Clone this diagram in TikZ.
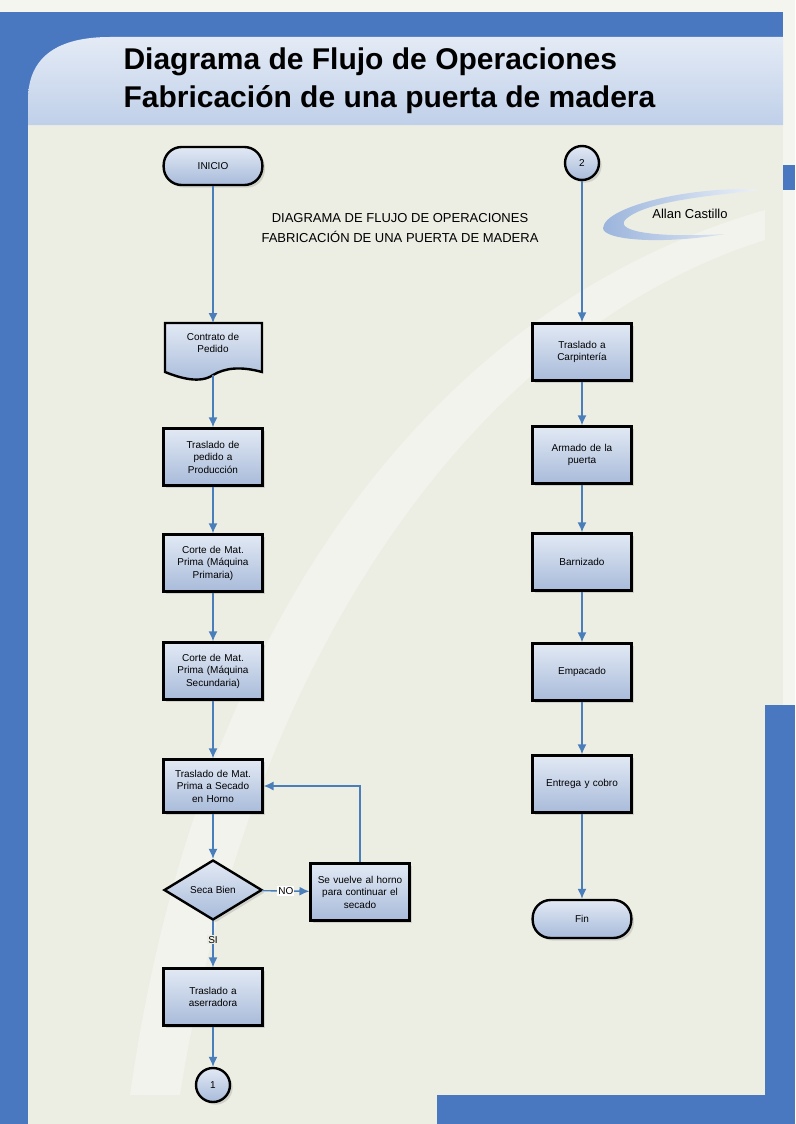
\documentclass[tikz,border=0pt]{standalone}
\usepackage{fontspec}
\setmainfont{Liberation Sans}
\usepackage{tikz}
\usetikzlibrary{arrows.meta,positioning,calc,shapes.geometric,shadows}
\definecolor{frameblue}{HTML}{4A78C0}
\definecolor{panel}{HTML}{ECEEE4}
\definecolor{flowblue}{HTML}{4A7EBB}
\definecolor{boxtop}{HTML}{E2E9F4}
\definecolor{boxbot}{HTML}{A8BBDA}
\begin{document}
\begin{tikzpicture}[x=1pt, y=-1pt,
    box/.style={rectangle, draw=black, line width=2.4pt, minimum width=96pt, minimum height=57pt,
      top color=boxtop, bottom color=boxbot, align=center, text width=92pt,
      font=\fontsize{10}{12.5}\selectfont, drop shadow={opacity=0.25}},
    term/.style={box, rounded corners=18pt, minimum height=38pt},
    conn/.style={circle, draw=black, line width=2.4pt, minimum size=34pt, inner sep=0pt,
      top color=boxtop, bottom color=boxbot, font=\fontsize{10}{12}\selectfont, drop shadow={opacity=0.25}},
    dec/.style={diamond, draw=black, line width=2.4pt, aspect=1.6, minimum width=98pt, minimum height=60pt,
      inner sep=0pt, top color=boxtop, bottom color=boxbot, font=\fontsize{10}{12}\selectfont, drop shadow={opacity=0.25}},
    flow/.style={flowblue, line width=1.4pt, -{Latex[length=10pt, width=9pt]}},
    lbl/.style={text=black, inner sep=1pt, font=\fontsize{10}{12}\selectfont},
    ]
    % page frame
    \useasboundingbox (0,0) rectangle (795,1124);
    \fill[panel!60] (0,0) rectangle (795,1124);
    \fill[frameblue] (0,12) rectangle (783,1124);
    \fill[frameblue] (783,165) rectangle (795,190);
    \fill[panel] (28,125) rectangle (783,1095);
    \fill[frameblue] (765,705) rectangle (795,1124);
    \fill[panel] (28,1095) rectangle (437,1124);
    \shade[top color=white!85!frameblue, bottom color=frameblue!35] (28,125) -- (28,100)
      .. controls (28,55) and (60,37) .. (110,37) -- (783,37) -- (783,125) -- cycle;
    \fill[white, opacity=0.3] (130,1095) .. controls (200,600) and (450,300) .. (765,210)
      -- (765,240) .. controls (480,330) and (250,650) .. (180,1095) -- cycle;

    % title
    \node[anchor=west, font=\bfseries\fontsize{30}{34}\selectfont] (title1) at (120,62) {Diagrama de Flujo de Operaciones};
    \node[anchor=west, font=\bfseries\fontsize{30}{34}\selectfont] (title2) at (120,100) {Fabricación de una puerta de madera};

    % left column
    \node[term] (inicio) at (213,166) {INICIO};
    \coordinate (cnw) at (165,323);
    \coordinate (cne) at (262,323);
    \coordinate (cse) at (262,372);
    \coordinate (csw) at (165,372);
    \coordinate (cbot) at (213,375);
    \shade[top color=boxtop, bottom color=boxbot, draw=black, line width=2.4pt]
      (csw) -- (cnw) -- (cne) -- (cse)
      .. controls (240,366) and (225,368) .. (cbot)
      .. controls (200,384) and (180,378) .. (csw) -- cycle;
    \node[align=center, font=\fontsize{10}{12.5}\selectfont] (contrato) at (213,343) {Contrato de\\Pedido};
    \node[box] (pedido) at (213,457) {Traslado de\\pedido a\\Producción};
    \node[box] (corte1) at (213,563) {Corte de Mat.\\Prima (Máquina\\Primaria)};
    \node[box] (corte2) at (213,671) {Corte de Mat.\\Prima (Máquina\\Secundaria)};
    \node[box, minimum height=53pt] (secado) at (213,786) {Traslado de Mat.\\Prima a Secado\\en Horno};
    \node[dec] (seca) at (213,890) {Seca Bien};
    \node[box, text width=92pt] (horno) at (360,892) {Se vuelve al horno\\para continuar el\\secado};
    \node[box] (aserr) at (213,997) {Traslado a\\aserradora};
    \node[conn] (c1) at (213,1085) {1};

    % right column
    \node[conn] (c2) at (582,163) {2};
    \node[box] (carp) at (582,352) {Traslado a\\Carpintería};
    \node[box] (armado) at (582,455) {Armado de la\\puerta};
    \node[box] (barniz) at (582,562) {Barnizado};
    \node[box] (empaq) at (582,672) {Empacado};
    \node[box] (entrega) at (582,784) {Entrega y cobro};
    \node[term] (fin) at (582,919) {Fin};

    % notes
    \node[align=center, font=\fontsize{13}{20}\selectfont] (subt) at (400,228) {DIAGRAMA DE FLUJO DE OPERACIONES\\FABRICACIÓN DE UNA PUERTA DE MADERA};
    \shade[left color=frameblue!55, right color=frameblue!10] (760,190) .. controls (700,185) and (605,205) .. (603,228)
      .. controls (603,240) and (660,245) .. (725,234)
      .. controls (660,238) and (615,232) .. (625,220)
      .. controls (645,200) and (720,195) .. (760,190) -- cycle;
    \node[font=\fontsize{13}{15}\selectfont] (autor) at (690,214) {Allan Castillo};

    % connections
    \draw[flow] (inicio) -- (213,323);
    \draw[flow] (cbot) -- (pedido);
    \draw[flow] (pedido) -- (corte1);
    \draw[flow] (corte1) -- (corte2);
    \draw[flow] (corte2) -- (secado);
    \draw[flow] (secado) -- (seca);
    \draw[flow] (seca) -- node[lbl, fill=white] {NO} (horno);
    \draw[flow] (horno.north) |- (secado.east);
    \draw[flow] (seca) -- node[lbl, pos=0.4, fill=panel] {SI} (aserr);
    \draw[flow] (aserr) -- (c1);
    \draw[flow] (c2) -- (carp);
    \draw[flow] (carp) -- (armado);
    \draw[flow] (armado) -- (barniz);
    \draw[flow] (barniz) -- (empaq);
    \draw[flow] (empaq) -- (entrega);
    \draw[flow] (entrega) -- (fin);
\end{tikzpicture}
\end{document}
